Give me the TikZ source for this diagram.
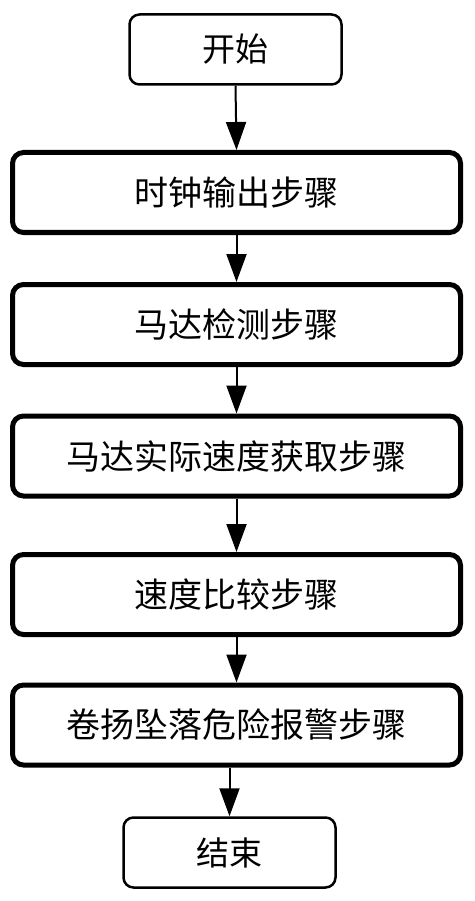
\documentclass[tikz,border=0pt]{standalone}
\usepackage{fontspec}
\setmainfont{Noto Sans CJK SC}
\usepackage{tikz}
\usetikzlibrary{arrows.meta, positioning}

\tikzset{
  endbox/.style={draw, rectangle, rounded corners=10pt, line width=2.5pt, minimum width=212pt, minimum height=70pt, font=\fontsize{33pt}{36pt}\selectfont},
  stepbox/.style={draw, rectangle, rounded corners=11pt, line width=5pt, minimum width=448pt, minimum height=80pt, font=\fontsize{34pt}{38pt}\selectfont},
  flow/.style={-{Triangle[length=28pt,width=20pt]}, line width=2pt}
}

\begin{document}
\begin{tikzpicture}[x=1pt, y=-1pt]
            \useasboundingbox (0,0) rectangle (474,901);

            \node[endbox] (start) at (235.5,49.5) {开始};
            \node[stepbox] (clock) at (236.5,192.5) {时钟输出步骤};
            \node[stepbox] (detect) at (236.5,324.5) {马达检测步骤};
            \node[stepbox] (speed) at (236.5,456) {马达实际速度获取步骤};
            \node[stepbox] (compare) at (236.5,594.5) {速度比较步骤};
            \node[stepbox] (alarm) at (236.5,725) {卷扬坠落危险报警步骤};
            \node[endbox] (stop) at (229.5,852.5) {结束};

            \draw[flow] (start.south) -- (clock.north);
            \draw[flow] (clock.south) -- (detect.north);
            \draw[flow] (detect.south) -- (speed.north);
            \draw[flow] (speed.south) -- (compare.north);
            \draw[flow] (compare.south) -- (alarm.north);
            \draw[flow] (alarm.south -| stop.north) -- (stop.north);
        \end{tikzpicture}
\end{document}
